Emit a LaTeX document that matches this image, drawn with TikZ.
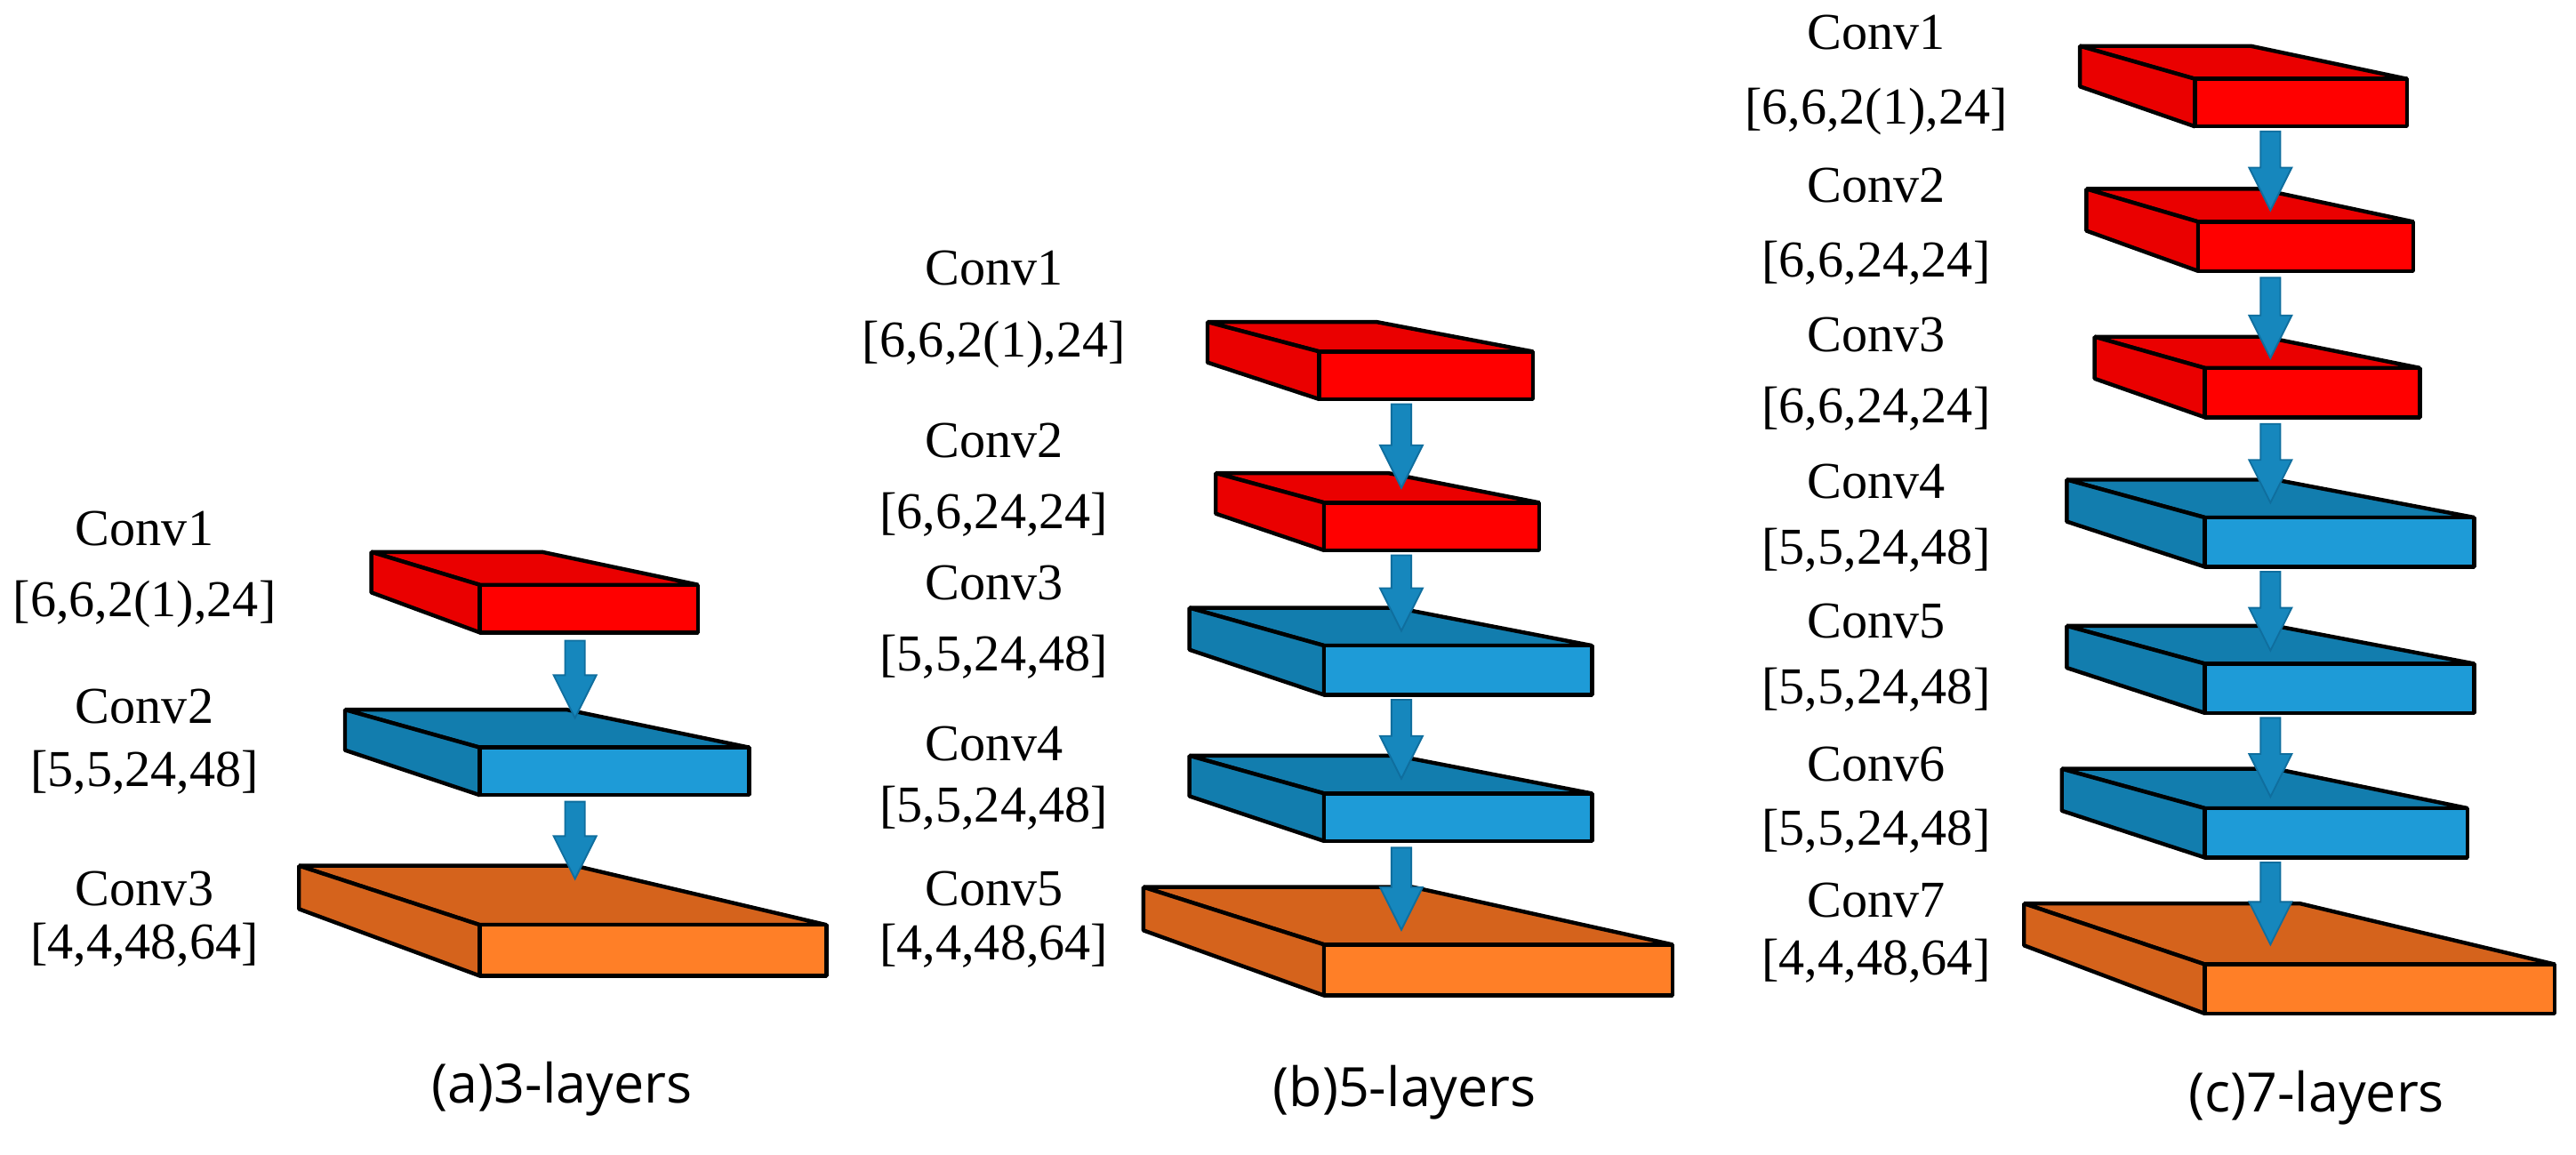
\documentclass[tikz,border=0pt]{standalone}
\usepackage{fontspec}
\setmainfont{Liberation Serif}
\newfontfamily\capfont{Open Sans}
\definecolor{redF}{HTML}{FF0000}\definecolor{redS}{HTML}{EA0000}
\definecolor{bluF}{HTML}{1E9BD7}\definecolor{bluS}{HTML}{127DAE}
\definecolor{orF}{HTML}{FF7F27}\definecolor{orS}{HTML}{D5631C}
\definecolor{arF}{HTML}{1687BD}\definecolor{arD}{HTML}{0F6E9E}
\tikzset{edge/.style={draw=black,line width=2.4pt,line join=bevel},
 lab/.style={font=\fontsize{31.5}{31.5}\selectfont,inner sep=0},
 captxt/.style={font=\capfont\fontsize{33}{33}\selectfont,inner sep=0}}
% box: #1 side col, #2 front col, bx1,bx2,by, fx1,fx2,fy1,fy2
\newcommand\cbox[9]{%
 \fill[#1,edge] (#3,#5) -- (#4,#5) -- (#7,#8) -- (#6,#8) -- cycle;
 \fill[#1,edge] (#3,#5) -- (#6,#8) -- (#6,#9) -- ({#3},{#5+0.85*(#9-#8)}) -- cycle;
 \fill[#2,edge] (#6,#8) rectangle (#7,#9);}
\newcommand\barrow[3]{%
 \fill[arF,draw=arD,line width=1pt] (#1-6,#2) -- (#1+6,#2) -- (#1+6,{#3-26}) -- (#1+13,{#3-26}) -- (#1,#3) -- (#1-13,{#3-26}) -- (#1-6,{#3-26}) -- cycle;}
\begin{document}
\begin{tikzpicture}[x=1pt,y=-1pt]
\useasboundingbox (0,0) rectangle (1568,703);
% (a)
\node[lab] (a1t) at (88,322) {Conv1}; \node[lab] (a1s) at (88,368) {[6,6,2(1),24]};
\node[lab] (a2t) at (88,430) {Conv2}; \node[lab] (a2s) at (88,470) {[5,5,24,48]};
\node[lab] (a3t) at (88,541) {Conv3}; \node[lab] (a3s) at (88,575) {[4,4,48,64]};
\cbox{redS}{redF}{226}{330}{336}{292}{425}{356}{385}
\cbox{bluS}{bluF}{210}{345}{432}{292}{456}{455}{484}
\cbox{orS}{orF}{182}{350}{527}{292}{503}{563}{594}
\barrow{350}{390}{437}\barrow{350}{488}{535}
\node[captxt] (ca) at (342,663) {(a)3-layers};
% (b)
\node[lab] (b1t) at (605,163) {Conv1}; \node[lab] (b1s) at (605,210) {[6,6,2(1),24]};
\node[lab] (b2t) at (605,268) {Conv2}; \node[lab] (b2s) at (605,313) {[6,6,24,24]};
\node[lab] (b3t) at (605,355) {Conv3}; \node[lab] (b3s) at (605,400) {[5,5,24,48]};
\node[lab] (b4t) at (605,453) {Conv4}; \node[lab] (b4s) at (605,492) {[5,5,24,48]};
\node[lab] (b5t) at (605,541) {Conv5}; \node[lab] (b5s) at (605,576) {[4,4,48,64]};
\cbox{redS}{redF}{735}{838}{196}{803}{933}{214}{243}
\cbox{redS}{redF}{740}{845}{288}{806}{937}{306}{335}
\cbox{bluS}{bluF}{724}{850}{370}{806}{969}{393}{423}
\cbox{bluS}{bluF}{724}{850}{460}{806}{969}{483}{512}
\cbox{orS}{orF}{696}{860}{540}{806}{1018}{575}{606}
\barrow{853}{246}{297}\barrow{853}{338}{384}\barrow{853}{426}{474}\barrow{853}{516}{566}
\node[captxt] (cb) at (855,665) {(b)5-layers};
% (c)
\node[lab] (c1t) at (1142,20) {Conv1}; \node[lab] (c1s) at (1142,68) {[6,6,2(1),24]};
\node[lab] (c2t) at (1142,113) {Conv2}; \node[lab] (c2s) at (1142,160) {[6,6,24,24]};
\node[lab] (c3t) at (1142,204) {Conv3}; \node[lab] (c3s) at (1142,249) {[6,6,24,24]};
\node[lab] (c4t) at (1142,293) {Conv4}; \node[lab] (c4s) at (1142,335) {[5,5,24,48]};
\node[lab] (c5t) at (1142,378) {Conv5}; \node[lab] (c5s) at (1142,420) {[5,5,24,48]};
\node[lab] (c6t) at (1142,465) {Conv6}; \node[lab] (c6s) at (1142,506) {[5,5,24,48]};
\node[lab] (c7t) at (1142,548) {Conv7}; \node[lab] (c7s) at (1142,585) {[4,4,48,64]};
\cbox{redS}{redF}{1266}{1370}{28}{1336}{1465}{48}{77}
\cbox{redS}{redF}{1270}{1375}{115}{1338}{1469}{135}{165}
\cbox{redS}{redF}{1275}{1378}{205}{1342}{1473}{224}{254}
\cbox{bluS}{bluF}{1258}{1385}{292}{1342}{1506}{315}{345}
\cbox{bluS}{bluF}{1258}{1385}{381}{1342}{1506}{404}{434}
\cbox{bluS}{bluF}{1255}{1385}{468}{1342}{1502}{492}{522}
\cbox{orS}{orF}{1232}{1400}{550}{1342}{1555}{587}{617}
\barrow{1382}{80}{128}\barrow{1382}{169}{218}\barrow{1382}{258}{306}
\barrow{1382}{348}{396}\barrow{1382}{437}{485}\barrow{1382}{525}{575}
\node[captxt] (cc) at (1410,668) {(c)7-layers};
\end{tikzpicture}
\end{document}
